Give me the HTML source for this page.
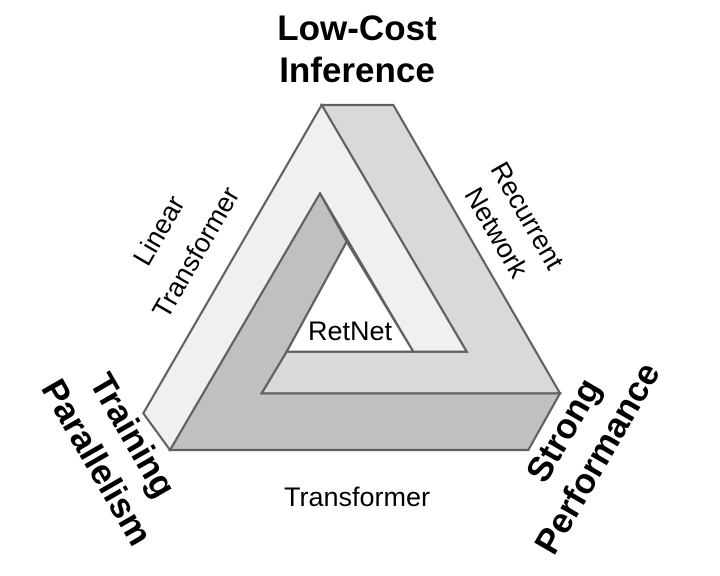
<!DOCTYPE html>
<html><head><style>
html,body{margin:0;padding:0;background:#fff;}
svg{display:block;}
text{font-family:"Liberation Sans",Arial,sans-serif;fill:#000;}
.b{font-weight:bold;font-size:35px;}
.r{font-size:27px;}
</style></head><body>
<svg width="720" height="576" viewBox="0 0 720 576">
<g stroke="#606060" stroke-width="2.2" stroke-linejoin="miter">
<polygon fill="#c0c0c0" points="320,193.3 346.7,241.7 286.7,351.7 261.7,393.3 560,393.3 528.3,450 170,450"/>
<polygon fill="#d9d9d9" points="321.7,105 393.3,105 560,393.3 261.7,393.3 286.7,351.7 466.7,351.7"/>
<polygon fill="#f0f0f0" points="321.7,105 466.7,351.7 413.3,351.7 320,193.3 170,450 143.3,413.3"/>
<polygon fill="#ffffff" points="346.7,241.7 413.3,351.7 286.7,351.7"/>
</g>
<text class="b" x="357" y="40" text-anchor="middle">Low-Cost</text>
<text class="b" x="357" y="82" text-anchor="middle">Inference</text>
<text class="r" x="350" y="340" text-anchor="middle">RetNet</text>
<text class="r" x="357" y="506" text-anchor="middle">Transformer</text>
<g transform="translate(158,230) rotate(-60)"><text class="r" x="0" y="10" text-anchor="middle">Linear</text></g>
<g transform="translate(195,252) rotate(-60)"><text class="r" x="0" y="10" text-anchor="middle">Transformer</text></g>
<g transform="translate(528,215) rotate(60)"><text class="r" x="0" y="10" text-anchor="middle">Recurrent</text></g>
<g transform="translate(497,232) rotate(60)"><text class="r" x="0" y="10" text-anchor="middle">Network</text></g>
<g transform="translate(133,435) rotate(60)"><text class="b" x="0" y="12" text-anchor="middle">Training</text></g>
<g transform="translate(97,462) rotate(60)"><text class="b" x="0" y="12" text-anchor="middle">Parallelism</text></g>
<g transform="translate(563,430) rotate(-60)"><text class="b" x="0" y="12" text-anchor="middle">Strong</text></g>
<g transform="translate(597,458) rotate(-60)"><text class="b" x="0" y="12" text-anchor="middle">Performance</text></g>
</svg>
</body></html>
